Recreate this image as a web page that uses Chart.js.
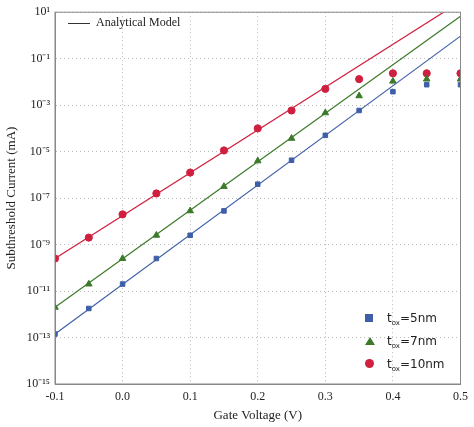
<!DOCTYPE html>
<html><head><meta charset="utf-8">
<script src="https://cdn.jsdelivr.net/npm/chart.js@4/dist/chart.umd.min.js"></script>
<style>
body{margin:0;background:#fff;}
#wrap{position:relative;width:474px;height:427px;}
.lg{position:absolute;font-family:"Liberation Serif",serif;font-size:12px;color:#222;}
.lg2{position:absolute;font-family:"DejaVu Sans",sans-serif;font-size:12px;color:#222;}
sub{font-size:7px;}
</style></head><body>
<div id="wrap"><canvas id="c" width="474" height="427"></canvas>
<div class="lg" style="left:68px;top:15px;"><span style="display:inline-block;width:22px;border-top:1px solid #333;vertical-align:middle;margin-right:6px"></span>Analytical Model</div>
<div class="lg2" style="left:365px;top:311px;"><span style="display:inline-block;width:8px;height:8px;background:#3f5fa8;margin-right:14px"></span>t<sub>ox</sub>=5nm</div>
<div class="lg2" style="left:365px;top:334px;"><span style="display:inline-block;width:0;height:0;border-left:5px solid transparent;border-right:5px solid transparent;border-bottom:8px solid #3c7a2a;margin-right:12px"></span>t<sub>ox</sub>=7nm</div>
<div class="lg2" style="left:365px;top:357px;"><span style="display:inline-block;width:9px;height:9px;border-radius:50%;background:#d0203f;margin-right:13px"></span>t<sub>ox</sub>=10nm</div>
</div>
<script>
const voltages=[-0.1,-0.05,0,0.05,0.1,0.15,0.2,0.25,0.3,0.35,0.4,0.45,0.5];
const log5=[-12.85,-11.75,-10.7,-9.6,-8.6,-7.55,-6.4,-5.37,-4.3,-3.23,-2.42,-2.12,-2.12];
const log7=[-11.7,-10.7,-9.6,-8.6,-7.55,-6.5,-5.4,-4.43,-3.33,-2.6,-1.97,-1.88,-1.88];
const log10n=[-9.6,-8.7,-7.7,-6.8,-5.9,-4.95,-4.0,-3.23,-2.3,-1.88,-1.63,-1.63,-1.63];
const modelX5=[-0.1,0.5], modelLog5=[-12.85,-0.03];
const modelX7=[-0.1,0.5], modelLog7=[-11.7,0.83];
const modelX10=[-0.1,0.475], modelLog10=[-9.6,1];
const yTickExps=[1,-1,-3,-5,-7,-9,-11,-13,-15];
const sup={'-':'⁻','0':'⁰','1':'¹','2':'²','3':'³','4':'⁴','5':'⁵','6':'⁶','7':'⁷','8':'⁸','9':'⁹'};
const toPts=(xs,ls)=>xs.map((x,i)=>({x:x,y:Math.pow(10,ls[i])}));
const blue='#3f5fa8',green='#3c7a2a',red='#d0203f';
const frame={id:'frame',afterDraw(ch){const a=ch.chartArea,c=ch.ctx;c.save();c.strokeStyle='#888';c.lineWidth=1;c.strokeRect(a.left,a.top,a.right-a.left,a.bottom-a.top);c.restore();}};
new Chart(document.getElementById('c'),{
 type:'scatter',
 data:{datasets:[
  {type:'line',data:toPts(modelX5,modelLog5),borderColor:blue,borderWidth:1.2,pointRadius:0},
  {type:'line',data:toPts(modelX7,modelLog7),borderColor:green,borderWidth:1.2,pointRadius:0},
  {type:'line',data:toPts(modelX10,modelLog10),borderColor:red,borderWidth:1.2,pointRadius:0},
  {data:toPts(voltages,log5),pointStyle:'rect',pointRadius:3.2,backgroundColor:blue,borderColor:blue},
  {data:toPts(voltages,log7),pointStyle:'triangle',pointRadius:3.8,backgroundColor:green,borderColor:green},
  {data:toPts(voltages,log10n),pointStyle:'circle',pointRadius:3.6,backgroundColor:red,borderColor:red}
 ]},
 options:{responsive:false,animation:false,
  layout:{padding:{top:8,right:9,left:0,bottom:0}},
  plugins:{legend:{display:false},tooltip:{enabled:false}},
  scales:{
   x:{type:'linear',min:-0.1,max:0.5,
    afterBuildTicks(s){s.ticks=[-0.1,0,0.1,0.2,0.3,0.4,0.5].map(v=>({value:v}));},
    afterFit(s){s.height=43;},
    ticks:{callback:v=>v.toFixed(1),font:{family:'Liberation Serif',size:12},color:'#222',padding:6,maxRotation:0},
    grid:{color:'#bbb',drawTicks:false},border:{display:true,color:'#888',dash:[1,3]},
    title:{display:true,text:'Gate Voltage (V)',font:{family:'Liberation Serif',size:13},color:'#222',padding:{top:4}}},
   y:{type:'logarithmic',min:1e-15,max:10,
    afterBuildTicks(s){s.ticks=yTickExps.map(e=>({value:Math.pow(10,e)}));},
    afterFit(s){s.width=55;},
    ticks:{callback:(v)=>{const e=Math.round(Math.log10(v));return '10'+String(e).split('').map(c=>sup[c]).join('');},font:{family:'Liberation Serif',size:12},color:'#222',padding:5},
    grid:{color:'#bbb',drawTicks:false},border:{display:true,color:'#888',dash:[1,3]},
    title:{display:true,text:'Subthreshold Current (mA)',font:{family:'Liberation Serif',size:13},color:'#222',padding:{bottom:2}}}
  }},
 plugins:[frame]
});
</script></body></html>
